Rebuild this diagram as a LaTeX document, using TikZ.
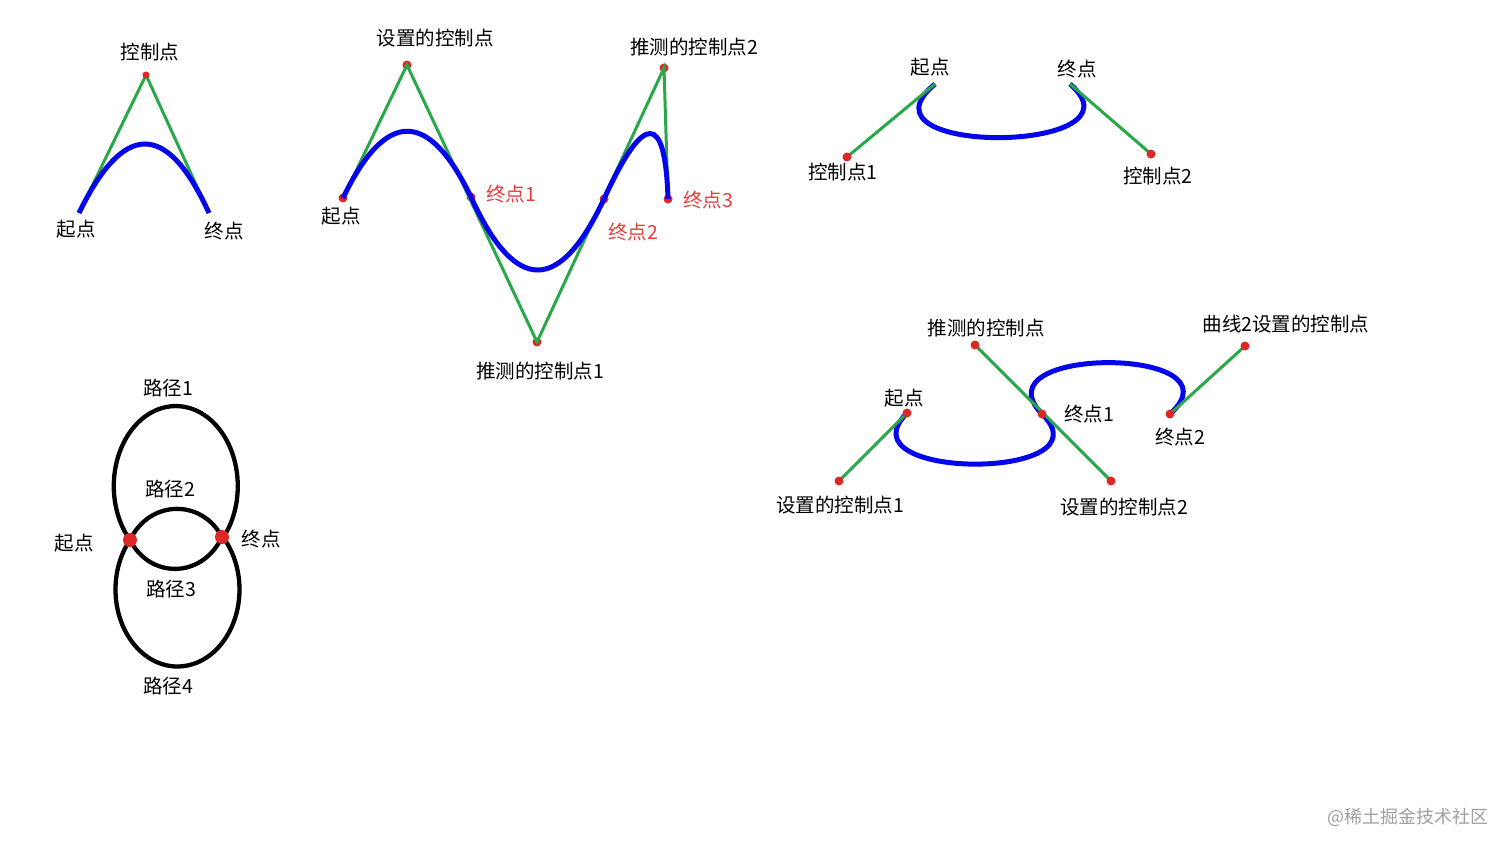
\documentclass[tikz,border=0pt]{standalone}
\usepackage{fontspec}
\setmainfont{Noto Sans CJK SC}
\usetikzlibrary{calc}
\definecolor{lineblue}{RGB}{5,5,235}
\definecolor{linegreen}{RGB}{40,168,72}
\definecolor{dotred}{RGB}{222,40,40}
\definecolor{textred}{RGB}{228,62,62}

\begin{document}
\begin{tikzpicture}[x=1pt, y=-1pt,
	curve/.style = {color = lineblue, line width = 5pt},
	guide/.style = {color = linegreen, line width = 3pt},
	ring/.style = {color = black, line width = 4.3pt},
	lbl/.style = {font = \fontsize{19.5}{22}\selectfont, inner sep = 0pt},
	redlbl/.style = {lbl, text = textred}]
	\useasboundingbox (0,0) rectangle (1512,851);

	% quadratic curve
	\coordinate (a1) at (79,213);
	\coordinate (c1) at (146,75);
	\coordinate (b1) at (209,213);
	\draw[guide] (a1) -- (c1) -- (b1);
	\draw[curve] (a1) .. controls ($(a1)!2/3!(c1)$) and ($(b1)!2/3!(c1)$) .. (b1);
	\fill[dotred] (c1) circle (3.5);
	\node[lbl] (lc1) at (150,52) {控制点};
	\node[lbl] (la1) at (76,229) {起点};
	\node[lbl] (lb1) at (224,231) {终点};

	% chained quadratic curves
	\coordinate (s2) at (343,198);
	\coordinate (k2) at (407,65);
	\coordinate (e21) at (471,197);
	\coordinate (p21) at (537,342);
	\coordinate (e22) at (604,199);
	\coordinate (p22) at (664,68);
	\coordinate (e23) at (668,199);
	\foreach \p in {s2,k2,e21,p21,e22,p22,e23}
	\fill[dotred] (\p) circle (4.5);
	\draw[guide] (s2) -- (k2) -- (p21) -- (p22) -- (e23);
	\draw[curve] (s2) .. controls ($(s2)!2/3!(k2)$) and ($(e21)!2/3!(k2)$) .. (e21)
		.. controls ($(e21)!2/3!(p21)$) and ($(e22)!2/3!(p21)$) .. (e22)
		.. controls ($(e22)!2/3!(p22)$) and ($(e23)!2/3!(p22)$) .. (e23);
	\node[lbl] (lk2) at (435,38) {设置的控制点};
	\node[lbl] (lp22) at (694,47) {推测的控制点2};
	\node[lbl] (ls2) at (341,216) {起点};
	\node[redlbl] (le21) at (511,194) {终点1};
	\node[redlbl] (le22) at (633,232) {终点2};
	\node[redlbl] (le23) at (708,200) {终点3};
	\node[lbl] (lp21) at (540,371) {推测的控制点1};

	% cubic curve
	\coordinate (s3) at (935,84);
	\coordinate (q31) at (847,157);
	\coordinate (e3) at (1070,84);
	\coordinate (q32) at (1151,154);
	\draw[curve] (s3) .. controls (q31) and (q32) .. (e3);
	\draw[guide] (s3) -- (q31);
	\draw[guide] (e3) -- (q32);
	\foreach \p in {q31,q32}
	\fill[dotred] (\p) circle (4.5);
	\node[lbl] (ls3) at (930,67) {起点};
	\node[lbl] (le3) at (1077,69) {终点};
	\node[lbl] (lq31) at (843,172) {控制点1};
	\node[lbl] (lq32) at (1158,176) {控制点2};

	% chained cubic curves
	\coordinate (s5) at (907,413);
	\coordinate (k51) at (839,481);
	\coordinate (k52) at (1111,481);
	\coordinate (e51) at (1042,414);
	\coordinate (g5) at (975,345);
	\coordinate (k53) at (1245,346);
	\coordinate (e52) at (1170,414);
	\draw[curve] (s5) .. controls (k51) and (k52) .. (e51) .. controls (g5) and (k53) .. (e52);
	\draw[guide] (s5) -- (k51);
	\draw[guide] (g5) -- (k52);
	\draw[guide] (e52) -- (k53);
	\foreach \p in {s5,k51,k52,e51,g5,k53,e52}
	\fill[dotred] (\p) circle (4.5);
	\node[lbl] (lg5) at (986,328) {推测的控制点};
	\node[lbl] (lk53) at (1286,324) {曲线2设置的控制点};
	\node[lbl] (ls5) at (904,398) {起点};
	\node[lbl] (le51) at (1089,414) {终点1};
	\node[lbl] (le52) at (1180,437) {终点2};
	\node[lbl] (lk51) at (840,505) {设置的控制点1};
	\node[lbl] (lk52) at (1124,507) {设置的控制点2};

	% four paths
	\coordinate (st) at (130,540);
	\coordinate (en) at (222,537);
	\draw[ring] (st) arc[start angle = 137.6, end angle = 399.5, x radius = 62, y radius = 80];
	\draw[ring] (st) arc[start angle = 220, end angle = -44, x radius = 62, y radius = 77];
	\draw[ring] (st) .. controls (150,499) and (202,499) .. (en);
	\draw[ring] (st) .. controls (150,579) and (202,579) .. (en);
	\foreach \p in {st,en}
	\fill[dotred] (\p) circle (7);
	\node[lbl] (lr1) at (168,388) {路径1};
	\node[lbl] (lr2) at (170,489) {路径2};
	\node[lbl] (lr3) at (171,589) {路径3};
	\node[lbl] (lr4) at (168,686) {路径4};
	\node[lbl] (lst) at (74,543) {起点};
	\node[lbl] (len) at (261,539) {终点};

	\node[font = \fontsize{18}{20}\selectfont, text = gray!75, inner sep = 0pt] (mark) at (1408,817) {@稀土掘金技术社区};
\end{tikzpicture}
\end{document}
